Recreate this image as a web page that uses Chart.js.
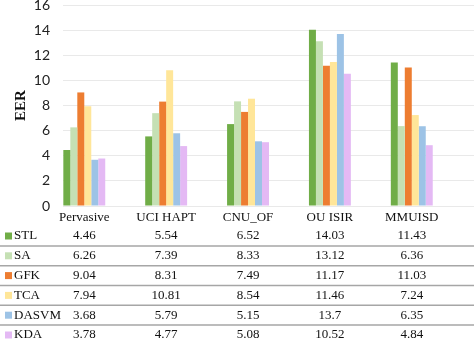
<!DOCTYPE html>
<html>
<head>
<meta charset="utf-8">
<script src="https://cdn.jsdelivr.net/npm/chart.js@4.4.1/dist/chart.umd.min.js"></script>
<style>
  html, body { margin: 0; padding: 0; background: #fff; }
  #wrap { width: 474px; height: 339px; }
</style>
</head>
<body>
<div id="wrap"><canvas id="eerChart" width="474" height="339"></canvas></div>
<script>
// datasets (kolommen) en methodes
const categories = ['Pervasive', 'UCI HAPT', 'CNU_OF', 'OU ISIR', 'MMUISD'];
const methods = ['STL', 'SA', 'GFK', 'TCA', 'DASVM', 'KDA'];

const stl = [4.46, 5.54, 6.52, 14.03, 11.43];
const sa = [6.26, 7.39, 8.33, 13.12, 6.36];
const gfk = [9.04, 8.31, 7.49, 11.17, 11.03];
const tca = [7.94, 10.81, 8.54, 11.46, 7.24];
const dasvm = [3.68, 5.79, 5.15, 13.7, 6.35];
const kda = [3.78, 4.77, 5.08, 10.52, 4.84];

const yTicks = [0, 2, 4, 6, 8, 10, 12, 14, 16];

const seriesValues = [stl, sa, gfk, tca, dasvm, kda];
const colors = ['#70ad47', '#c5e0b4', '#ed7d31', '#ffe699', '#9dc3e6', '#e4b9f4'];

const serif = "'Liberation Serif', 'DejaVu Serif', serif";

// tabel onder de grafiek
const dataTable = {
    id: 'dataTable',
    afterDraw(chart) {
        const ctx = chart.ctx;
        const x = chart.scales.x;
        const top = chart.chartArea.bottom;
        ctx.save();
        ctx.font = '13px ' + serif;
        ctx.fillStyle = '#111';
        ctx.textBaseline = 'middle';
        ctx.textAlign = 'center';
        categories.forEach((c, i) => {
            ctx.fillText(c, x.getPixelForValue(i), top + 12);
        });
        const rowH = 19.8;
        methods.forEach((m, r) => {
            const cy = top + 30 + r * rowH;
            if (r > 0) {
                ctx.strokeStyle = '#a6a6a6';
                ctx.lineWidth = 1.5;
                ctx.beginPath();
                ctx.moveTo(0, cy - rowH / 2);
                ctx.lineTo(chart.width, cy - rowH / 2);
                ctx.stroke();
            }
            ctx.fillStyle = colors[r];
            ctx.fillRect(5, cy - 3.5, 7, 7);
            ctx.fillStyle = '#111';
            ctx.textAlign = 'left';
            ctx.fillText(m, 14, cy);
            ctx.textAlign = 'center';
            seriesValues[r].forEach((v, i) => {
                ctx.fillText(String(v), x.getPixelForValue(i), cy);
            });
        });
        ctx.restore();
    }
};

const ctx = document.getElementById('eerChart').getContext('2d');

new Chart(ctx, {
    type: 'bar',
    data: {
        datasets: methods.map((m, k) => ({
            label: m,
            data: seriesValues[k].map((v, i) => ({ x: i, y: v })),
            backgroundColor: colors[k],
            borderWidth: 0,
        })),
    },
    options: {
        responsive: false,
        animation: false,
        layout: { padding: { top: 5, right: 0, bottom: 133, left: 0 } },
        datasets: {
            bar: { barPercentage: 1, categoryPercentage: 0.512 },
        },
        plugins: {
            legend: { display: false },
            tooltip: { enabled: false },
        },
        scales: {
            x: {
                type: 'linear',
                display: false,
                offset: false,
                min: -0.26,
                max: 4.76,
                afterBuildTicks: s => { s.ticks = categories.map((c, i) => ({ value: i })); },
            },
            y: {
                min: 0,
                max: 16,
                afterBuildTicks: s => { s.ticks = yTicks.map(v => ({ value: v })); },
                afterFit: s => {
                    s.width = 63;
                    s.paddingTop = 0;
                    s.paddingBottom = 0;
                },
                border: { display: false },
                grid: { color: '#e9e9e9', drawTicks: false },
                ticks: {
                    padding: 13,
                    color: '#222',
                    font: { family: "Lato, 'Open Sans', sans-serif", size: 14 },
                },
                title: {
                    display: true,
                    text: 'EER',
                    color: '#111',
                    padding: { top: 12, bottom: 0 },
                    font: { family: serif, size: 15, weight: 'bold' },
                },
            },
        },
    },
    plugins: [dataTable],
});
</script>
</body>
</html>
